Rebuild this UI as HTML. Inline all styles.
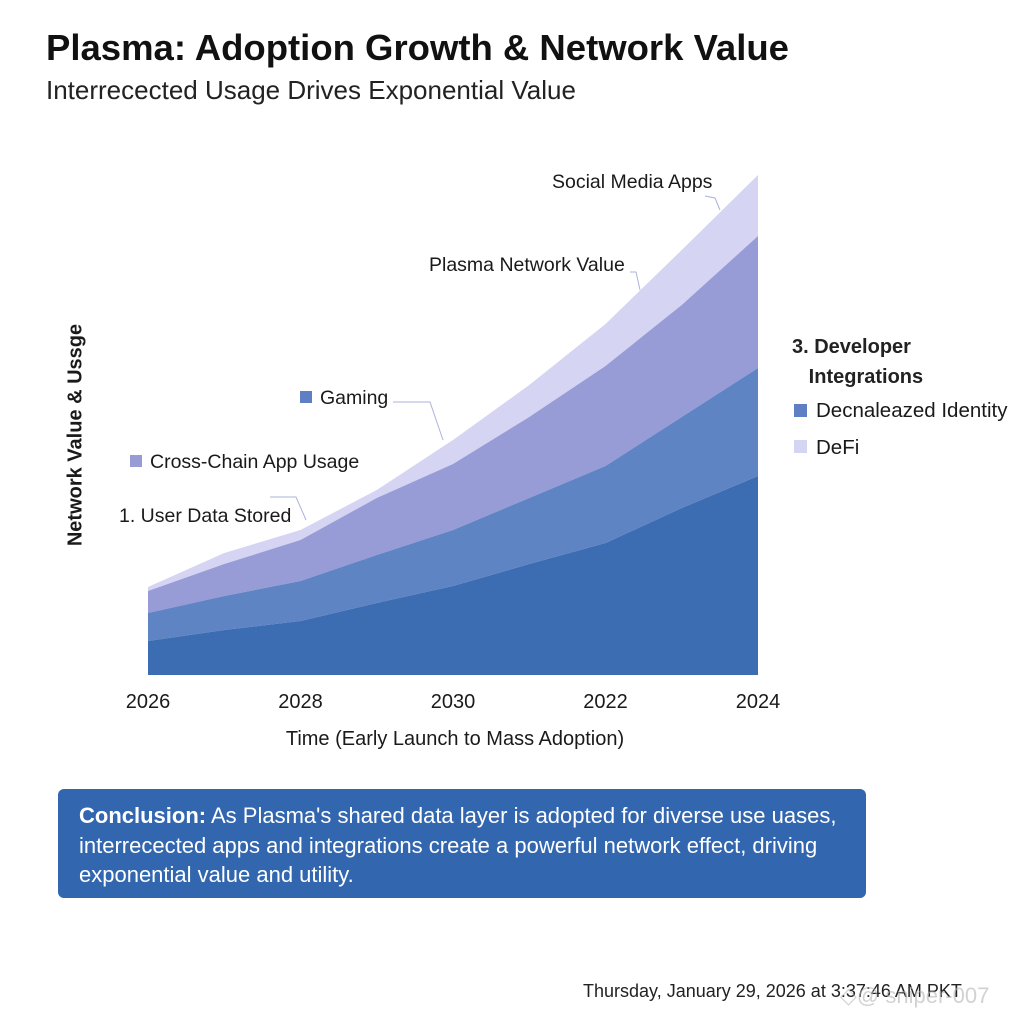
<!DOCTYPE html>
<html><head><meta charset="utf-8"><style>
body{margin:0;width:1024px;height:1024px;background:#fff;font-family:"Liberation Sans",sans-serif;position:relative;overflow:hidden}
.t{position:absolute;white-space:nowrap;color:#1a1a1a}
</style></head><body>
<div class="t" style="left:46px;top:27px;font-size:36.5px;font-weight:bold;color:#111">Plasma: Adoption Growth &amp; Network Value</div>
<div class="t" style="left:46px;top:75px;font-size:26px;color:#222">Interrecected Usage Drives Exponential Value</div>
<svg id="chart" width="1024" height="1024" style="position:absolute;left:0;top:0"></svg>
<div class="t" style="left:76px;top:435px;font-size:20px;font-weight:bold;transform:translate(-50%,-50%) rotate(-90deg)">Network Value &amp; Ussge</div>
<div class="t" style="left:455px;top:728px;font-size:20px;transform:translateX(-50%)">Time (Early Launch to Mass Adoption)</div>
<div class="t" style="left:792px;top:332px;font-size:20px;line-height:30px;font-weight:bold;color:#222">3. Developer<br>&nbsp;&nbsp;&nbsp;Integrations</div>
<div style="position:absolute;left:794px;top:404px;width:13px;height:13px;background:#5f7fc4"></div>
<div class="t" style="left:816px;top:399px;font-size:20.5px">Decnaleazed Identity</div>
<div style="position:absolute;left:794px;top:440px;width:13px;height:13px;background:#d5d4f2"></div>
<div class="t" style="left:816px;top:436px;font-size:20.5px">DeFi</div>
<div style="position:absolute;left:58px;top:789px;width:808px;height:109px;background:#3267b0;border-radius:6px;color:#fff;font-size:22px;line-height:29.5px;padding:12px 0 0 21px;box-sizing:border-box"><b>Conclusion:</b> As Plasma's shared data layer is adopted for diverse use uases,<br>interrecected apps and integrations create a powerful network effect, driving<br>exponential value and utility.</div>
<div class="t" style="left:583px;top:981px;font-size:18px;color:#222">Thursday, January 29, 2026 at 3:37:46 AM PKT</div>
<div class="t" style="left:840px;top:983px;font-size:22px;color:rgba(180,180,180,0.6)">◇@ sniper-007</div>
<script>
const xTicks=["2026","2028","2030","2022","2024"];
const userData=[6.8,9,10.8,14.4,17.8,22.2,26.4,33.4,39.8];
const crossChain=[5.6,6.8,8,9.6,11.2,13.2,15.4,18.2,21.6];
const gaming=[4.4,6.4,8.2,11.4,13.2,16.2,20,22.4,26.4];
const social=[0.8,2.2,2,1.6,4.8,6.4,8.4,11,12.2];
const series=[userData,crossChain,gaming,social];
const colors=["#3c6db2","#5f84c4","#979bd6","#d5d4f2"];
const names=["area-user-data","area-cross-chain","area-gaming","area-social-media"];
const x0=148,x1=758,yb=675,yt=175,vmax=100;
const xs=i=>x0+(x1-x0)*i/(userData.length-1);
const ys=v=>yb-(yb-yt)*v/vmax;
const svg=document.getElementById('chart');
const NS="http://www.w3.org/2000/svg";
let base=userData.map(()=>0);
series.forEach((s,k)=>{
  const top=s.map((v,i)=>base[i]+v);
  let d="M"+top.map((v,i)=>xs(i)+","+ys(v)).join(" L");
  for(let i=s.length-1;i>=0;i--)d+=" L"+xs(i)+","+ys(base[i]);
  const p=document.createElementNS(NS,"path");
  p.setAttribute("d",d+"Z");p.setAttribute("fill",colors[k]);
  
  
  svg.insertBefore(p,svg.firstChild);
  base=top;
});
xTicks.forEach((t,i)=>{
  const e=document.createElementNS(NS,"text");
  e.setAttribute("x",x0+(x1-x0)*i/(xTicks.length-1));e.setAttribute("y",708);
  e.setAttribute("text-anchor","middle");e.setAttribute("font-size","20");e.setAttribute("fill","#1a1a1a");
  e.setAttribute("font-family","Liberation Sans, sans-serif");
  e.textContent=t;
  
  
  svg.appendChild(e);
});
svg.insertAdjacentHTML("beforeend",`
<g fill="none" stroke="#a9b4dc" stroke-width="1">
<polyline points="705,196 715,198 720,210"/>
<polyline points="630,272 636,272 640,290"/>
<polyline points="393,402 430,402 443,440"/>
<polyline points="270,497 296,497 306,520"/>
</g>
<g font-family="Liberation Sans, sans-serif" font-size="19.5" fill="#1a1a1a">
<text x="552" y="188">Social Media Apps</text>
<text x="429" y="271">Plasma Network Value</text>
<rect x="300" y="391" width="12" height="12" fill="#5f7fc4"/>
<text x="320" y="404">Gaming</text>
<rect x="130" y="455" width="12" height="12" fill="#979bd6"/>
<text x="150" y="468">Cross-Chain App Usage</text>
<text x="119" y="522">1. User Data Stored</text>
</g>`);
</script>
</body></html>
